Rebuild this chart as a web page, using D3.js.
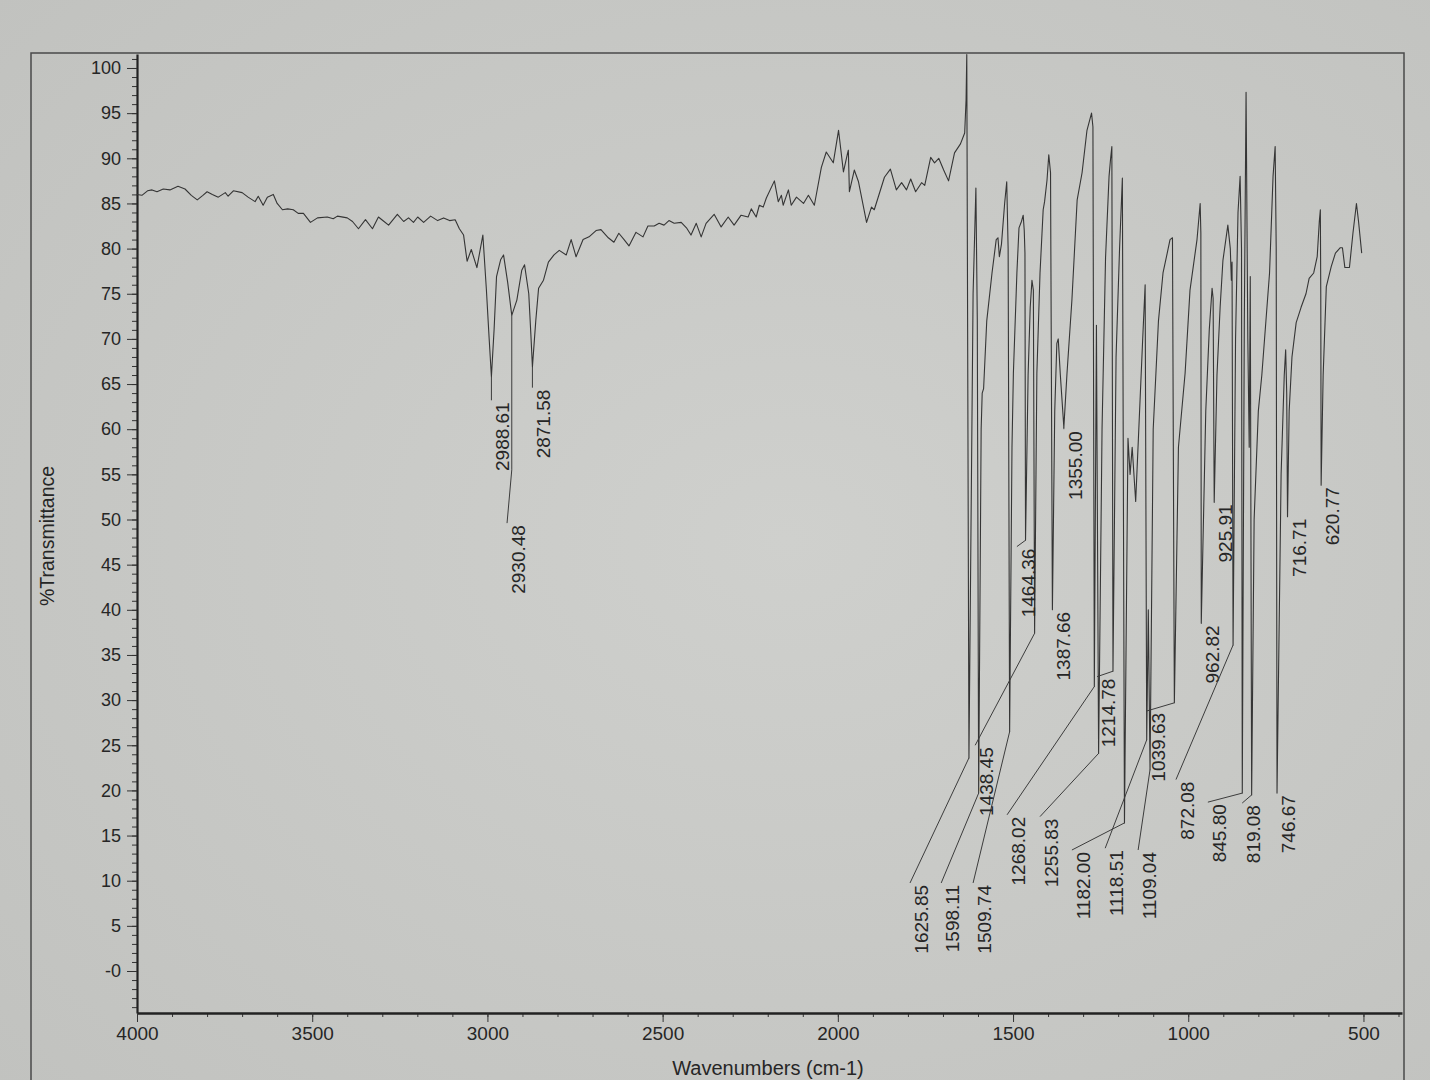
<!DOCTYPE html>
<html lang="en">
<meta charset="utf-8">
<head>
    <script src="https://d3js.org/d3.v7.min.js"></script>
    <style>
        body { margin: 0; background: #c9cac7; }
        text { font-family: "Liberation Sans", Arial, sans-serif; fill: #262626; }
    </style>
</head>
<body>
<script>
    // spectrum: [wavenumber cm-1, %T]
    var spectrum = [
        [4000, 86.0], [3986, 85.9], [3970, 86.4], [3957, 86.5], [3943, 86.3], [3925, 86.6], [3906, 86.5],
        [3883, 86.9], [3863, 86.6], [3845, 85.9], [3828, 85.4], [3812, 85.9], [3800, 86.3], [3785, 86.0],
        [3768, 85.7], [3748, 86.2], [3740, 85.8], [3725, 86.4], [3700, 86.2], [3683, 85.7], [3663, 85.2],
        [3654, 85.8], [3640, 84.8], [3628, 85.7], [3611, 86.0], [3600, 85.0], [3585, 84.3], [3570, 84.4],
        [3554, 84.3], [3540, 83.9], [3525, 83.9], [3505, 82.9], [3485, 83.4], [3457, 83.5], [3440, 83.3],
        [3428, 83.6], [3400, 83.4], [3385, 83.0], [3368, 82.2], [3348, 83.2], [3328, 82.2], [3311, 83.5],
        [3295, 83.0], [3282, 82.6], [3257, 83.8], [3239, 83.0], [3225, 83.4], [3211, 82.9], [3199, 83.5],
        [3182, 82.9], [3162, 83.6], [3142, 83.1], [3125, 83.4], [3108, 83.1], [3092, 83.2], [3080, 82.2],
        [3068, 81.5], [3058, 78.6], [3046, 79.9], [3030, 77.9], [3013, 81.5], [3003, 75.5], [2995, 70.0],
        [2988.61, 65.8], [2981, 71.0], [2974, 76.9], [2962, 78.8], [2954, 79.3], [2942, 76.2], [2930.48, 72.6],
        [2916, 74.3], [2902, 77.6], [2894, 78.2], [2882, 75.0], [2876, 70.5], [2871.58, 66.9], [2862, 72.0],
        [2854, 75.6], [2840, 76.5], [2826, 78.5], [2810, 79.3], [2795, 79.8], [2775, 79.3], [2761, 81.0],
        [2747, 79.1], [2727, 81.0], [2710, 81.3], [2690, 82.0], [2676, 82.1], [2655, 81.2], [2639, 80.7],
        [2625, 81.7], [2610, 81.0], [2596, 80.3], [2576, 81.8], [2556, 81.3], [2542, 82.5], [2524, 82.5],
        [2510, 82.8], [2496, 82.6], [2482, 83.1], [2467, 82.8], [2447, 82.9], [2432, 82.3], [2419, 81.5],
        [2404, 82.8], [2390, 81.3], [2376, 82.8], [2353, 83.8], [2333, 82.4], [2313, 83.5], [2296, 82.6],
        [2276, 83.7], [2256, 83.5], [2247, 84.4], [2233, 83.5], [2224, 84.8], [2213, 84.6], [2204, 85.6],
        [2181, 87.5], [2170, 85.2], [2161, 85.9], [2156, 84.8], [2141, 86.5], [2133, 84.8], [2118, 85.7],
        [2098, 85.0], [2084, 85.9], [2067, 84.8], [2047, 89.0], [2033, 90.7], [2013, 89.5], [1998, 93.1],
        [1984, 88.5], [1972, 90.6], [1970, 90.9], [1967, 86.3], [1953, 88.7], [1941, 87.4], [1918, 82.9],
        [1904, 84.6], [1896, 84.3], [1867, 87.9], [1850, 88.8], [1833, 86.5], [1818, 87.3], [1804, 86.5],
        [1792, 87.7], [1778, 86.3], [1761, 87.3], [1752, 87.0], [1735, 90.1], [1724, 89.5], [1712, 90.0],
        [1698, 88.7], [1684, 87.5], [1667, 90.6], [1650, 91.6], [1638, 92.8], [1634, 96.5], [1632, 101.5],
        [1625.85, 23.6], [1614, 75], [1606, 86.7], [1602, 72], [1598.11, 19.7], [1591, 60], [1588, 64],
        [1584, 64.5], [1575, 72], [1560, 77.3], [1548, 81], [1543, 81.2], [1539, 79.1], [1533, 80.5],
        [1524, 85], [1518, 87.4], [1514, 80], [1509.74, 26.5], [1503, 58], [1499, 66.2], [1489, 77.3],
        [1483, 82.3], [1476, 83], [1471, 83.7], [1468, 82], [1466, 79.5], [1464.36, 47.7], [1457, 66],
        [1451, 73.5], [1446, 76.5], [1442, 75.4], [1438.45, 37.4], [1432, 66.2], [1423, 77.3], [1414, 84.3],
        [1410, 85.2], [1403, 87.6], [1398, 90.4], [1393, 88.4], [1387.66, 40], [1381, 62], [1375, 69.5],
        [1371, 70], [1365, 66], [1355, 60.2], [1346, 66.2], [1332, 74.3], [1317, 85.4], [1303, 88.4],
        [1289, 93.1], [1276, 95], [1272, 93.5], [1268.02, 31.5], [1262, 71.5], [1255.83, 24.1], [1246, 60],
        [1236, 79], [1226, 88], [1222, 89.8], [1218, 91.3], [1214.78, 33.2], [1206, 68], [1196, 80],
        [1188, 87.8], [1182, 16.4], [1172, 59], [1166, 55], [1160, 58], [1150, 52], [1130, 70], [1123, 76],
        [1118.51, 25.6], [1114, 40], [1109.04, 22.3], [1100, 60], [1085, 72], [1072, 77.3], [1060, 79.5],
        [1052, 81], [1045, 81.2], [1039.63, 29.7], [1028, 58], [1009, 66.2], [995, 75.4], [975, 81],
        [966, 85], [964, 81.7], [962.82, 38.5], [950, 62], [940, 71], [932, 75.6], [929, 74.5],
        [925.91, 51.9], [918, 66], [909, 73.5], [901, 78.7], [887, 82.6], [880, 80], [877, 76.5],
        [875, 78.5], [872.08, 36.1], [865, 70], [858, 84], [852, 88], [848, 80], [845.8, 19.7], [840, 72],
        [835, 97.3], [830, 70], [826, 58], [823, 76.9], [819.08, 19.5], [812, 50], [800, 62], [790, 66],
        [768, 77.3], [758, 88], [752, 91.3], [749, 80], [746.67, 19.7], [735, 55], [726, 66], [722, 68.8],
        [719, 64], [716.71, 50.3], [712, 62], [704, 68], [692, 71.8], [678, 73.5], [664, 75], [655, 76.7],
        [642, 77.3], [632, 79.1], [626, 83], [623, 84.3], [621.8, 75], [620.77, 53.8], [615, 66],
        [606, 75.8], [592, 78], [580, 79.5], [566, 80.1], [560, 80.1], [553, 77.9], [540, 77.9],
        [530, 81.7], [520, 85], [514, 83], [505, 79.5]
    ];

    // peak labels: peak wavenumber, %T where the vertical leader stops,
    // then where the leader ends and the text starts (wavenumber, %T)
    var peakLabels = [
        {wn: 2988.61, t: 65.8, bend: 63.2, endWn: 2988.61, endT: 63.2},
        {wn: 2930.48, t: 72.6, bend: 55.5, endWn: 2944, endT: 49.6},
        {wn: 2871.58, t: 66.9, bend: 64.6, endWn: 2871.58, endT: 64.6},
        {wn: 1625.85, t: 23.6, bend: 23.6, endWn: 1794, endT: 9.75},
        {wn: 1598.11, t: 19.7, bend: 19.7, endWn: 1705, endT: 9.75},
        {wn: 1509.74, t: 26.5, bend: 26.5, endWn: 1614, endT: 9.75},
        {wn: 1464.36, t: 47.7, bend: 47.7, endWn: 1489, endT: 47.0},
        {wn: 1438.45, t: 37.4, bend: 37.4, endWn: 1608, endT: 25.0},
        {wn: 1387.66, t: 40.0, bend: 40.0, endWn: 1387.66, endT: 40.0},
        {wn: 1355.00, t: 60.2, bend: 60.2, endWn: 1355.00, endT: 60.0},
        {wn: 1268.02, t: 31.5, bend: 31.5, endWn: 1517, endT: 17.3},
        {wn: 1255.83, t: 24.1, bend: 24.1, endWn: 1423, endT: 17.1},
        {wn: 1214.78, t: 33.2, bend: 33.2, endWn: 1260, endT: 32.6},
        {wn: 1182.00, t: 16.4, bend: 16.4, endWn: 1332, endT: 13.4},
        {wn: 1118.51, t: 25.6, bend: 25.6, endWn: 1237, endT: 13.6},
        {wn: 1109.04, t: 22.3, bend: 22.3, endWn: 1143, endT: 13.4},
        {wn: 1039.63, t: 29.7, bend: 29.7, endWn: 1118, endT: 28.8},
        {wn: 962.82, t: 38.5, bend: 38.5, endWn: 962.82, endT: 38.5},
        {wn: 925.91, t: 51.9, bend: 51.9, endWn: 925.91, endT: 51.9},
        {wn: 872.08, t: 36.1, bend: 36.1, endWn: 1035, endT: 21.2},
        {wn: 845.80, t: 19.7, bend: 19.7, endWn: 944, endT: 18.7},
        {wn: 819.08, t: 19.5, bend: 19.5, endWn: 846, endT: 18.6},
        {wn: 746.67, t: 19.7, bend: 19.7, endWn: 746.67, endT: 19.7},
        {wn: 716.71, t: 50.3, bend: 50.3, endWn: 716.71, endT: 50.3},
        {wn: 620.77, t: 53.8, bend: 53.8, endWn: 620.77, endT: 53.8}
    ];

    var xMajor = [4000, 3500, 3000, 2500, 2000, 1500, 1000, 500];
    var xMinor = d3.range(3900, 399, -100);
    var yMajor = d3.range(0, 101, 5);
    var yMinor = d3.range(-4, 102, 1);

    var W = 1430, H = 1080;
    var plotL = 137, plotR = 1402, plotT = 54, plotB = 1013;

    var svg = d3.select("body").append("svg")
        .attr("width", W)
        .attr("height", H);

    // paper
    var grad = svg.append("defs").append("radialGradient")
        .attr("id", "paper").attr("cx", "55%").attr("cy", "50%").attr("r", "75%");
    grad.append("stop").attr("offset", "0%").attr("stop-color", "#cfd0cd");
    grad.append("stop").attr("offset", "100%").attr("stop-color", "#c1c2bf");
    svg.append("rect").attr("width", W).attr("height", H).attr("fill", "url(#paper)");

    // outer frame of the printout
    svg.append("path")
        .attr("d", "M31," + H + "V53H1404V" + H)
        .attr("fill", "none").attr("stroke", "#4a4a4a").attr("stroke-width", 1.5);

    var x = d3.scaleLinear().domain([4000, 390]).range([plotL, plotR]);
    var y = d3.scaleLinear().domain([-4.65, 101.55]).range([plotB, plotT]);

    // minor ticks
    svg.append("g")
        .attr("transform", "translate(" + plotL + ",0)")
        .call(d3.axisLeft(y).tickValues(yMinor).tickSize(5).tickFormat(""))
        .call(function(g) { g.select(".domain").remove(); })
        .selectAll("line").attr("stroke", "#333");
    svg.append("g")
        .attr("transform", "translate(0," + plotB + ")")
        .call(d3.axisBottom(x).tickValues(xMinor).tickSize(4).tickFormat(""))
        .call(function(g) { g.select(".domain").remove(); })
        .selectAll("line").attr("stroke", "#333");

    var yAxis = svg.append("g")
        .attr("transform", "translate(" + plotL + ",0)")
        .call(d3.axisLeft(y).tickValues(yMajor).tickSize(10).tickSizeOuter(0).tickPadding(6)
            .tickFormat(function(d) { return d === 0 ? "-0" : d; }));
    yAxis.select(".domain").attr("stroke", "#222").attr("stroke-width", 2.2);
    yAxis.selectAll("line").attr("stroke", "#333");
    yAxis.selectAll("text").style("font-size", "18px").attr("fill", "#262626");

    var xAxis = svg.append("g")
        .attr("transform", "translate(0," + plotB + ")")
        .call(d3.axisBottom(x).tickValues(xMajor).tickSize(9).tickSizeOuter(0).tickPadding(5)
            .tickFormat(d3.format("d")));
    xAxis.select(".domain").attr("stroke", "#222").attr("stroke-width", 2.4);
    xAxis.selectAll("line").attr("stroke", "#333");
    xAxis.selectAll("text").style("font-size", "19px").attr("fill", "#262626");

    svg.append("text")
        .attr("transform", "translate(54,536) rotate(-90)")
        .attr("text-anchor", "middle")
        .style("font-size", "19.5px")
        .text("%Transmittance");

    svg.append("text")
        .attr("x", 768).attr("y", 1075)
        .attr("text-anchor", "middle")
        .style("font-size", "20px")
        .text("Wavenumbers (cm-1)");

    var line = d3.line()
        .x(function(d) { return x(d[0]); })
        .y(function(d) { return y(d[1]); });

    svg.append("path")
        .datum(spectrum)
        .attr("d", line)
        .attr("fill", "none")
        .attr("stroke", "#353535")
        .attr("stroke-width", 1.1)
        .attr("stroke-linejoin", "round");

    // leaders and peak labels
    var lab = svg.selectAll(".peak")
        .data(peakLabels)
        .enter()
        .append("g")
        .attr("class", "peak");

    lab.append("path")
        .attr("d", function(d) {
            return "M" + x(d.wn) + "," + y(d.t) +
                "L" + x(d.wn) + "," + y(d.bend) +
                "L" + x(d.endWn) + "," + y(d.endT);
        })
        .attr("fill", "none")
        .attr("stroke", "#3c3c3c")
        .attr("stroke-width", 1);

    lab.append("text")
        .attr("transform", function(d) {
            return "translate(" + (x(d.endWn) + 18) + "," + (y(d.endT) + 2) + ") rotate(-90)";
        })
        .attr("text-anchor", "end")
        .style("font-size", "19px")
        .text(function(d) { return d.wn.toFixed(2); });
</script>
</body>
</html>
